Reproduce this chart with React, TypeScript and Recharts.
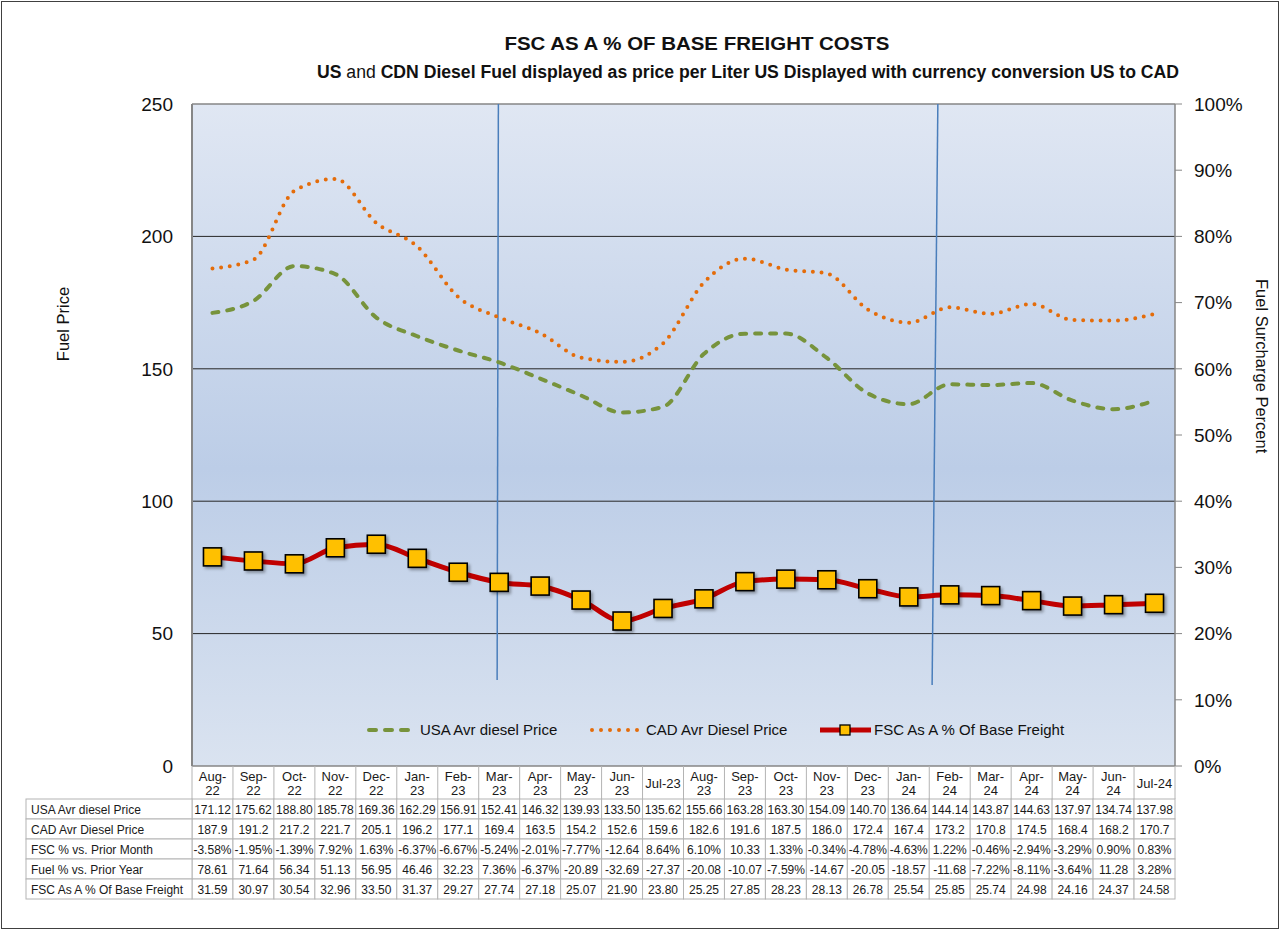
import { LineChart, Line, XAxis, YAxis, ReferenceLine, CartesianGrid } from 'recharts';

const months = [
  'Aug-22', 'Sep-22', 'Oct-22', 'Nov-22', 'Dec-22', 'Jan-23', 'Feb-23', 'Mar-23',
  'Apr-23', 'May-23', 'Jun-23', 'Jul-23', 'Aug-23', 'Sep-23', 'Oct-23', 'Nov-23',
  'Dec-23', 'Jan-24', 'Feb-24', 'Mar-24', 'Apr-24', 'May-24', 'Jun-24', 'Jul-24'
];

const usaPrice = [
  171.12, 175.62, 188.8, 185.78, 169.36, 162.29, 156.91, 152.41, 146.32, 139.93, 133.5, 135.62,
  155.66, 163.28, 163.3, 154.09, 140.7, 136.64, 144.14, 143.87, 144.63, 137.97, 134.74, 137.98
];

const cadPrice = [
  187.9, 191.2, 217.2, 221.7, 205.1, 196.2, 177.1, 169.4, 163.5, 154.2, 152.6, 159.6,
  182.6, 191.6, 187.5, 186.0, 172.4, 167.4, 173.2, 170.8, 174.5, 168.4, 168.2, 170.7
];

const fscPct = [
  31.59, 30.97, 30.54, 32.96, 33.5, 31.37, 29.27, 27.74, 27.18, 25.07, 21.9, 23.8,
  25.25, 27.85, 28.23, 28.13, 26.78, 25.54, 25.85, 25.74, 24.98, 24.16, 24.37, 24.58
];

const fscVsPriorMonth = [
  '-3.58%', '-1.95%', '-1.39%', '7.92%', '1.63%', '-6.37%', '-6.67%', '-5.24%', '-2.01%', '-7.77%', '-12.64', '8.64%',
  '6.10%', '10.33', '1.33%', '-0.34%', '-4.78%', '-4.63%', '1.22%', '-0.46%', '-2.94%', '-3.29%', '0.90%', '0.83%'
];

const fuelVsPriorYear = [
  '78.61', '71.64', '56.34', '51.13', '56.95', '46.46', '32.23', '7.36%', '-6.37%', '-20.89', '-32.69', '-27.37',
  '-20.08', '-10.07', '-7.59%', '-14.67', '-20.05', '-18.57', '-11.68', '-7.22%', '-8.11%', '-3.64%', '11.28', '3.28%'
];

const leftTicks = [0, 50, 100, 150, 200, 250];
const rightTicks = [0, 10, 20, 30, 40, 50, 60, 70, 80, 90, 100];
const gridValues = [50, 100, 150, 200, 250];

// the two hand-drawn blue markers, on a 0..24 column scale
const markerLines = [
  { xTop: 7.48, xBottom: 7.45, yBottom: 32.5 },
  { xTop: 18.21, xBottom: 18.07, yBottom: 30.6 }
];

const data = months.map((month, i) => ({ month, col: i + 0.5, usa: usaPrice[i], cad: cadPrice[i], fsc: fscPct[i] }));

const tableRows = [
  { label: 'USA Avr diesel Price', cells: usaPrice.map((v) => v.toFixed(2)) },
  { label: 'CAD Avr Diesel Price', cells: cadPrice.map((v) => v.toFixed(1)) },
  { label: 'FSC % vs. Prior Month', cells: fscVsPriorMonth },
  { label: 'Fuel % vs. Prior Year', cells: fuelVsPriorYear },
  { label: 'FSC As A % Of Base Freight', cells: fscPct.map((v) => v.toFixed(2)) }
];

const W = 1280;
const H = 930;
const PLOT_LEFT = 192;
const PLOT_RIGHT = 1175;
const PLOT_TOP = 104;
const PLOT_BOTTOM = 766;
const COL_W = (PLOT_RIGHT - PLOT_LEFT) / months.length;
const TABLE_LEFT = 26;
const ROW_TOP = 799;
const ROW_H = 20;
const FONT = '"Liberation Sans", Arial, sans-serif';
const CELL_LINE = '#b4b4b4';

function TableTick(props: any) {
  const { x, payload } = props;
  const i: number = props.index ?? payload.index;
  const label: string = payload.value;
  const [m, yr] = label.split('-');
  const single = m === 'Jul';
  const left = x - COL_W / 2;
  return (
    <g fontFamily={FONT} fill="#1a1a1a">
      <line x1={left + COL_W} y1={PLOT_BOTTOM} x2={left + COL_W} y2={ROW_TOP} stroke={CELL_LINE} />
      {i === 0 && <line x1={left} y1={PLOT_BOTTOM} x2={left} y2={ROW_TOP} stroke={CELL_LINE} />}
      {single ? (
        <text x={x} y={788} textAnchor="middle" fontSize={13}>{label}</text>
      ) : (
        <text textAnchor="middle" fontSize={13}>
          <tspan x={x} y={781}>{m}-</tspan>
          <tspan x={x} y={795}>{yr}</tspan>
        </text>
      )}
      {tableRows.map((r, ri) => (
        <g key={ri}>
          <rect x={left} y={ROW_TOP + ri * ROW_H} width={COL_W} height={ROW_H} fill="#fff" stroke={CELL_LINE} />
          <text x={x} y={ROW_TOP + ri * ROW_H + 14.5} textAnchor="middle" fontSize={12}>{r.cells[i]}</text>
        </g>
      ))}
      {i === 0 &&
        tableRows.map((r, ri) => (
          <g key={'l' + ri}>
            <rect x={TABLE_LEFT} y={ROW_TOP + ri * ROW_H} width={left - TABLE_LEFT} height={ROW_H} fill="#fff" stroke={CELL_LINE} />
            <text x={TABLE_LEFT + 5} y={ROW_TOP + ri * ROW_H + 14.5} fontSize={12}>{r.label}</text>
          </g>
        ))}
    </g>
  );
}

function SquareDot(props: any) {
  const { cx, cy } = props;
  if (cx == null || cy == null) return null;
  return (
    <rect x={cx - 9} y={cy - 9} width={18} height={18} fill="#ffc000" stroke="#000" strokeWidth={1.6} filter="url(#dotShadow)" />
  );
}

function LegendBox() {
  const text = { position: 'absolute' as const, top: 0, fontSize: 15, lineHeight: '20px', color: '#111', whiteSpace: 'nowrap' as const };
  return (
    <div style={{ position: 'absolute', left: 0, top: 720, width: W, height: 20, fontFamily: FONT }}>
      <svg style={{ position: 'absolute', left: 0, top: 0 }} width={W} height={20}>
        <line x1={369} y1={10} x2={416} y2={10} stroke="#77933c" strokeWidth={4} strokeDasharray="7 9" strokeLinecap="round" />
        <line x1={592} y1={10} x2={640} y2={10} stroke="#e46c0a" strokeWidth={4} strokeDasharray="0 9" strokeLinecap="round" />
        <line x1={820} y1={10} x2={871} y2={10} stroke="#c00000" strokeWidth={5} />
        <rect x={840} y={5} width={10} height={10} fill="#ffc000" stroke="#000" strokeWidth={1.3} />
      </svg>
      <span style={{ ...text, left: 420 }}>USA Avr diesel Price</span>
      <span style={{ ...text, left: 646 }}>CAD Avr Diesel Price</span>
      <span style={{ ...text, left: 874 }}>FSC As A % Of Base Freight</span>
    </div>
  );
}

export default function App() {
  return (
    <div style={{ position: 'relative', width: W, height: H, background: '#fff', fontFamily: FONT }}>
      <style>{'body{margin:0}'}</style>
      <div style={{ position: 'absolute', left: 1, top: 1, width: 1276, height: 926, border: '1px solid #404040' }} />
      <div style={{ position: 'absolute', left: 0, top: 0 }}>
        <LineChart width={W} height={H} data={data} margin={{ top: PLOT_TOP, right: 0, bottom: 0, left: 0 }}>
          <defs>
            <linearGradient id="plotBg" x1="0" y1="0" x2="0" y2="1">
              <stop offset="0%" stopColor="#e0e7f3" />
              <stop offset="55%" stopColor="#bccde7" />
              <stop offset="100%" stopColor="#dae3f0" />
            </linearGradient>
            <filter id="dotShadow" x="-50%" y="-50%" width="200%" height="200%">
              <feDropShadow dx="2" dy="2" stdDeviation="1.5" floodColor="#000" floodOpacity="0.35" />
            </filter>
          </defs>
          <CartesianGrid horizontal={false} vertical={false} fill="url(#plotBg)" fillOpacity={1} />
          <XAxis
            dataKey="month"
            interval={0}
            height={H - PLOT_BOTTOM}
            padding={{ left: COL_W / 2, right: COL_W / 2 }}
            tick={<TableTick />}
            tickLine={false}
            axisLine={{ stroke: '#868686', strokeWidth: 1.5 }}
          />
          <XAxis xAxisId="n" dataKey="col" type="number" domain={[0, 24]} allowDataOverflow hide />
          <YAxis
            yAxisId="left"
            width={PLOT_LEFT}
            domain={[0, 250]}
            ticks={leftTicks}
            interval={0}
            tickSize={0}
            tickMargin={19}
            tickLine={false}
            axisLine={{ stroke: '#868686', strokeWidth: 2 }}
            tick={{ fontSize: 19, fill: '#111', fontFamily: FONT }}
          />
          <YAxis
            yAxisId="right"
            orientation="right"
            width={W - PLOT_RIGHT}
            domain={[0, 100]}
            ticks={rightTicks}
            interval={0}
            tickSize={7}
            tickMargin={12}
            tickFormatter={(v: number) => `${v}%`}
            tickLine={{ stroke: '#868686' }}
            axisLine={{ stroke: '#868686', strokeWidth: 1.5 }}
            tick={{ fontSize: 19, fill: '#111', fontFamily: FONT }}
          />
          {gridValues.map((v) => (
            <ReferenceLine key={v} yAxisId="left" y={v} stroke={v === 250 ? '#868686' : '#262626'} strokeWidth={v === 250 ? 1.5 : 1} />
          ))}
          {markerLines.map((mk, k) => (
            <ReferenceLine
              key={'mk' + k}
              xAxisId="n"
              yAxisId="left"
              segment={[{ x: mk.xTop, y: 250 }, { x: mk.xBottom, y: mk.yBottom }]}
              stroke="#4a7ebb"
              strokeWidth={1.5}
            />
          ))}
          <Line
            yAxisId="left"
            type="monotone"
            dataKey="usa"
            name="USA Avr diesel Price"
            stroke="#77933c"
            strokeWidth={4}
            strokeDasharray="6 9"
            strokeLinecap="round"
            dot={false}
            activeDot={false}
            isAnimationActive={false}
          />
          <Line
            yAxisId="left"
            type="monotone"
            dataKey="cad"
            name="CAD Avr Diesel Price"
            stroke="#e46c0a"
            strokeWidth={4}
            strokeDasharray="0 8.7"
            strokeLinecap="round"
            dot={false}
            activeDot={false}
            isAnimationActive={false}
          />
          <Line
            yAxisId="right"
            type="monotone"
            dataKey="fsc"
            name="FSC As A % Of Base Freight"
            stroke="#c00000"
            strokeWidth={5}
            dot={<SquareDot />}
            activeDot={false}
            isAnimationActive={false}
          />
        </LineChart>
      </div>
      <LegendBox />
      <svg style={{ position: 'absolute', left: 0, top: 0, pointerEvents: 'none' }} width={W} height={H}>
        <text x={697} y={50} textAnchor="middle" fontFamily={FONT} fontWeight="bold" fontSize={18} textLength={385} lengthAdjust="spacingAndGlyphs" fill="#111">
          FSC AS A % OF BASE FREIGHT COSTS
        </text>
        <text x={317} y={78} fontFamily='"Liberation Sans Narrow", "Liberation Sans", Arial, sans-serif' fontWeight="bold" fontSize={18} textLength={862} lengthAdjust="spacingAndGlyphs" fill="#111">
          US <tspan fontWeight="normal">and</tspan> CDN Diesel Fuel displayed as price per Liter US Displayed with currency conversion US to CAD
        </text>
        <text transform="translate(69,324) rotate(-90)" textAnchor="middle" fontFamily={FONT} fontSize={16.5} fill="#111">
          Fuel Price
        </text>
        <text transform="translate(1256,279) rotate(90)" textAnchor="start" fontFamily={FONT} fontSize={16.5} fill="#111">
          Fuel Surcharge Percent
        </text>
      </svg>
    </div>
  );
}
